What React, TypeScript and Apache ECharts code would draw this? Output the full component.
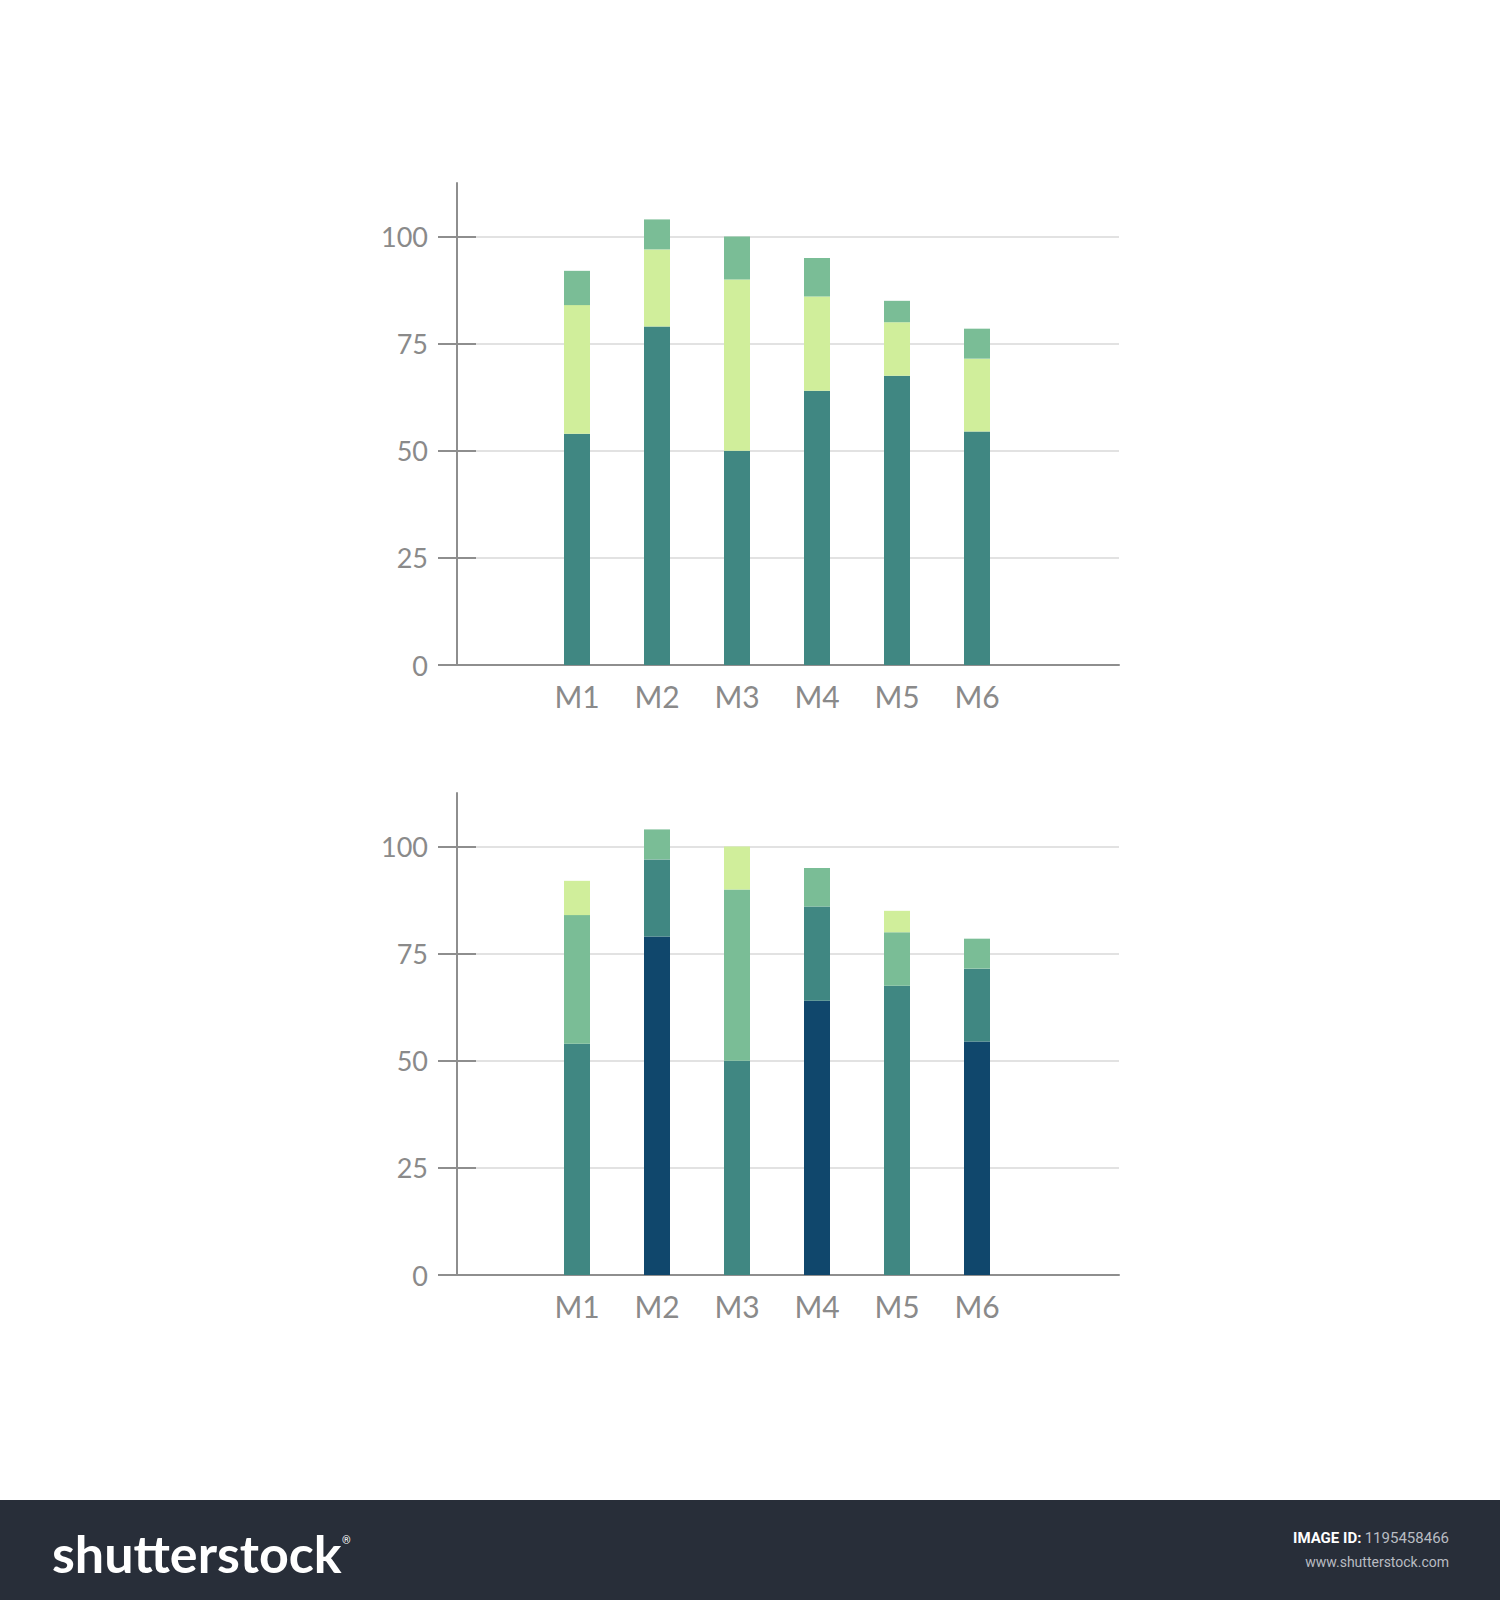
import React, { useEffect, useRef } from "react";
import * as echarts from "echarts";

// ---- data ----
const months = ["M1", "M2", "M3", "M4", "M5", "M6"];
const baseValues = [54, 79, 50, 64, 67.5, 54.5];
const midValues = [30, 18, 40, 22, 12.5, 17];
const topValues = [8, 7, 10, 9, 5, 7];
const yTickLabels = [0, 25, 50, 75, 100];
const yMax = 112.5;
const yStep = 12.5;

// ---- colours ----
const TEAL = "#408782";
const LIME = "#d0ee9b";
const GREEN = "#7abd96";
const NAVY = "#10476c";
const chart1Colors = [TEAL, LIME, GREEN];
const chart2BaseColors = [TEAL, NAVY, TEAL, NAVY, TEAL, NAVY];
const chart2MidColors = [GREEN, TEAL, GREEN, TEAL, GREEN, TEAL];
const chart2TopColors = [LIME, GREEN, LIME, GREEN, LIME, GREEN];

const FONT = "Lato";
const LABEL_COLOR = "#8a8a8a";
const AXIS_COLOR = "#8e8e8e";
const GRID_COLOR = "#e2e2e2";

const chartTops = [183, 793];
const PLOT_H = 482;
const AXIS_LEFT = 457;
const AXIS_W = 662;
const BAR_LEFT = 537;
const BAR_W = 480;

export default function App() {
  const ref = useRef<HTMLDivElement>(null);

  useEffect(() => {
    if (!ref.current) return;
    const chart = echarts.init(ref.current, undefined, { renderer: "svg" });

    const grids: any[] = [];
    const xAxes: any[] = [];
    const yAxes: any[] = [];
    chartTops.forEach((top) => {
      const gA = grids.length;
      grids.push({ left: AXIS_LEFT, top, width: AXIS_W, height: PLOT_H });
      grids.push({ left: BAR_LEFT, top, width: BAR_W, height: PLOT_H });
      xAxes.push({
        gridIndex: gA,
        type: "value",
        min: 0,
        max: 1,
        axisLine: { show: true, onZero: false, lineStyle: { color: AXIS_COLOR, width: 2 } },
        axisTick: { show: false },
        axisLabel: { show: false },
        splitLine: { show: false },
      });
      xAxes.push({
        gridIndex: gA + 1,
        type: "category",
        data: months,
        axisLine: { show: false },
        axisTick: { show: false },
        axisLabel: { color: LABEL_COLOR, fontFamily: FONT, fontSize: 30, margin: 16 },
        splitLine: { show: false },
      });
      yAxes.push({
        gridIndex: gA,
        type: "value",
        min: 0,
        max: yMax,
        interval: yStep,
        axisLine: { show: true, onZero: false, lineStyle: { color: AXIS_COLOR, width: 2 } },
        axisTick: {
          show: true,
          length: 19,
          customValues: yTickLabels,
          lineStyle: { color: AXIS_COLOR, width: 2 },
        },
        axisLabel: {
          customValues: yTickLabels,
          color: LABEL_COLOR,
          fontFamily: FONT,
          fontSize: 27,
          margin: 29,
        },
        splitLine: { show: true, lineStyle: { color: GRID_COLOR, width: 2 } },
      });
      yAxes.push({
        gridIndex: gA,
        type: "value",
        position: "left",
        min: 0,
        max: yMax,
        interval: yStep,
        axisLine: { show: false, onZero: false },
        axisTick: {
          show: true,
          inside: true,
          length: 19,
          customValues: yTickLabels,
          lineStyle: { color: AXIS_COLOR, width: 2 },
        },
        axisLabel: { show: false },
        splitLine: { show: false },
      });
      yAxes.push({ gridIndex: gA + 1, type: "value", min: 0, max: yMax, show: false });
    });

    const layers = [baseValues, midValues, topValues];
    const chart2Colors = [chart2BaseColors, chart2MidColors, chart2TopColors];
    const series: any[] = [];
    layers.forEach((vals, i) => {
      series.push({
        type: "bar",
        name: "c1-" + i,
        xAxisIndex: 1,
        yAxisIndex: 2,
        stack: "c1",
        barWidth: 26,
        itemStyle: { color: chart1Colors[i] },
        data: vals,
      });
    });
    layers.forEach((vals, i) => {
      series.push({
        type: "bar",
        name: "c2-" + i,
        xAxisIndex: 3,
        yAxisIndex: 5,
        stack: "c2",
        barWidth: 26,
        data: vals.map((v, j) => ({ value: v, itemStyle: { color: chart2Colors[i][j] } })),
      });
    });

    chart.setOption({
      animation: false,
      backgroundColor: "#ffffff",
      grid: grids,
      xAxis: xAxes,
      yAxis: yAxes,
      series,
      graphic: [
        {
          type: "rect",
          shape: { x: 0, y: 1500, width: 1500, height: 100 },
          style: { fill: "#282e39" },
          silent: true,
        },
        {
          type: "text",
          x: 52,
          y: 1553,
          style: {
            text: "shutterstock",
            fill: "#ffffff",
            font: "bold 52px Lato",
            verticalAlign: "middle",
          },
        },
        {
          type: "text",
          x: 342,
          y: 1540,
          style: { text: "®", fill: "#ffffff", font: "11px Roboto", verticalAlign: "middle" },
        },
        {
          type: "text",
          x: 1449,
          y: 1538,
          style: {
            text: "{b|IMAGE ID:} {n|1195458466}",
            align: "right",
            verticalAlign: "middle",
            rich: {
              b: { fill: "#ffffff", font: "bold 15px Roboto" },
              n: { fill: "#b9bcc2", font: "15px Roboto" },
            },
          },
        },
        {
          type: "text",
          x: 1449,
          y: 1562,
          style: {
            text: "www.shutterstock.com",
            align: "right",
            verticalAlign: "middle",
            fill: "#b9bcc2",
            font: "14px Roboto",
          },
        },
      ],
    });

    return () => chart.dispose();
  }, []);

  return (
    <div
      ref={ref}
      style={{ position: "absolute", left: 0, top: 0, width: 1500, height: 1600, background: "#fff" }}
    />
  );
}
